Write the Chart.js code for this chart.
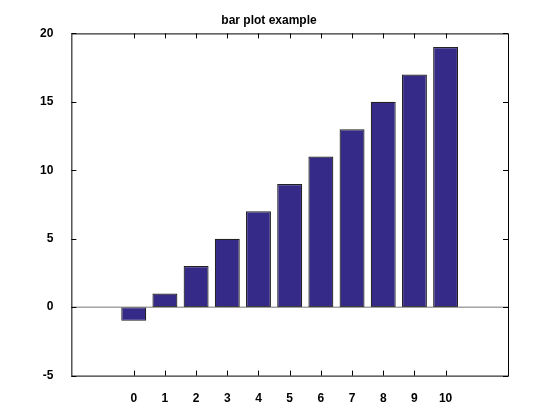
<!DOCTYPE html>
<html>
<head>
<script src="https://cdn.jsdelivr.net/npm/chart.js@4"></script>
<style>
  body { margin: 0; background: #fff; }
  #wrap { width: 560px; height: 420px; }
</style>
</head>
<body>
<div id="wrap"><canvas id="chart"></canvas></div>
<script>
const xValues = [0, 1, 2, 3, 4, 5, 6, 7, 8, 9, 10];
const yValues = [-1, 1, 3, 5, 7, 9, 11, 13, 15, 17, 19];
const xTicks = [0, 1, 2, 3, 4, 5, 6, 7, 8, 9, 10];
const yTicks = [-5, 0, 5, 10, 15, 20];

const font = { family: "Arial, 'Liberation Sans'", size: 12, weight: 'bold' };

// box around plot area, with inward ticks like matlab
const boxPlugin = {
  id: 'box',
  afterDraw(chart) {
    const { ctx, chartArea: a, scales } = chart;
    ctx.save();
    ctx.strokeStyle = '#000';
    ctx.lineWidth = 1;
    ctx.strokeRect(a.left + 0.5, a.top + 0.5, a.right - a.left, a.bottom - a.top);
    ctx.beginPath();
    xTicks.forEach(t => {
      const px = Math.round(scales.x.getPixelForValue(t)) + 0.5;
      ctx.moveTo(px, a.bottom); ctx.lineTo(px, a.bottom - 5);
      ctx.moveTo(px, a.top); ctx.lineTo(px, a.top + 5);
    });
    yTicks.forEach(t => {
      const py = Math.round(scales.y.getPixelForValue(t)) + 0.5;
      ctx.moveTo(a.left, py); ctx.lineTo(a.left + 5, py);
      ctx.moveTo(a.right, py); ctx.lineTo(a.right - 5, py);
    });
    ctx.stroke();
    ctx.restore();
  }
};

new Chart(document.getElementById('chart'), {
  data: {
    datasets: [
      {
        type: 'line',
        data: [{ x: -2, y: 0 }, { x: 12, y: 0 }],
        borderColor: '#777',
        borderWidth: 1,
        pointRadius: 0
      },
      {
        type: 'bar',
        data: xValues.map((x, i) => ({ x: x, y: yValues[i] })),
        backgroundColor: '#352a87',
        borderColor: '#222',
        borderWidth: 1.2,
        borderSkipped: false,
        barPercentage: 0.8,
        categoryPercentage: 1
      }
    ]
  },
  options: {
    responsive: true,
    maintainAspectRatio: false,
    animation: false,
    layout: { padding: { left: 30, right: 52, top: 9, bottom: 6 } },
    plugins: {
      legend: { display: false },
      tooltip: { enabled: false },
      title: {
        display: true,
        text: 'bar plot example',
        color: '#000',
        font: font,
        padding: { top: 4, bottom: 6 }
      }
    },
    scales: {
      x: {
        type: 'linear',
        min: -2,
        max: 12,
        offset: false,
        afterBuildTicks: s => { s.ticks = xTicks.map(v => ({ value: v })); },
        grid: { display: false },
        border: { display: false },
        ticks: { color: '#000', font: font, padding: 8 }
      },
      y: {
        min: -5,
        max: 20,
        afterBuildTicks: s => { s.ticks = yTicks.map(v => ({ value: v })); },
        grid: { display: false },
        border: { display: false },
        ticks: { color: '#000', font: font, padding: 10 }
      }
    }
  },
  plugins: [boxPlugin]
});
</script>
</body>
</html>
